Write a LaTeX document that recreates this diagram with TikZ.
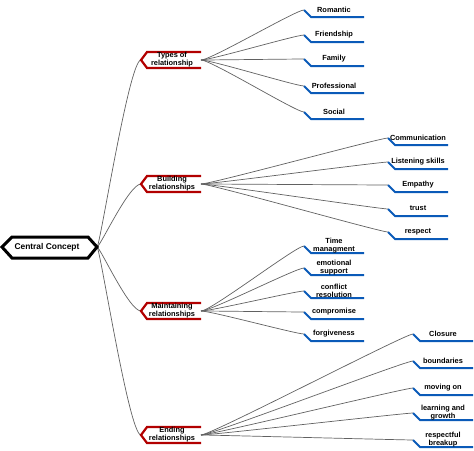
\documentclass[tikz,border=0pt]{standalone}
\usepackage{fontspec}
\setmainfont{Liberation Sans}
\definecolor{leafblue}{HTML}{0A5AB8}
\definecolor{branchred}{HTML}{B20000}
\tikzset{
  conn/.style={draw=black!62, line width=0.7pt},
  leafline/.style={draw=leafblue, line width=2pt},
  branchline/.style={draw=branchred, line width=2.2pt},
  centralline/.style={draw=black, line width=3pt, fill=white, line join=miter},
  txt/.style={font=\fontsize{7.4}{8}\selectfont\bfseries, align=center, inner sep=0pt},
  ctxt/.style={font=\fontsize{8.4}{10}\selectfont\bfseries, inner sep=0pt},
}
\newcommand\mmleaf[5]{%
  \coordinate (#1) at (#3,{#4-7});
  \draw[conn] (#2-r) .. controls +(10,0) and +(-8,0) .. (#1);
  \draw[leafline] (#1) -- ++(7,7) -- ++(53,0);
  \node[txt] (#1-t) at ({#3+30},{#4-7.5}) {#5};
}
\newcommand\mmbranch[3]{%
  \coordinate (#1-l) at (141,#2);
  \coordinate (#1-r) at (201,#2);
  \draw[conn] (c-r) .. controls +(3,0) and +(-12,0) .. (#1-l);
  \draw[branchline] (201,{#2-8}) -- (147,{#2-8}) -- (#1-l) -- (147,{#2+8}) -- (201,{#2+8});
  \node[txt] (#1) at (172,#2) {#3};
}
\begin{document}
\begin{tikzpicture}[x=1pt,y=-1pt]
\useasboundingbox (0,0) rectangle (474,450);
\coordinate (c-r) at (97,247);
\mmbranch{b1}{60}{Types of\\relationship}
\mmbranch{b2}{184}{Building\\relationships}
\mmbranch{b3}{311}{Maintaining\\relationships}
\mmbranch{b4}{435}{Ending\\relationships}
\draw[centralline] (2,247) -- (12,237) -- (88,237) -- (c-r) -- (88,258) -- (12,258) -- cycle;
\node[ctxt] (c) at (47,247) {Central Concept};
% group 1
\mmleaf{l11}{b1}{304}{17}{Romantic}
\mmleaf{l12}{b1}{304}{42}{Friendship}
\mmleaf{l13}{b1}{304}{66}{Family}
\mmleaf{l14}{b1}{304}{93}{Professional}
\mmleaf{l15}{b1}{304}{119}{Social}
% group 2
\mmleaf{l21}{b2}{388}{145}{Communication}
\mmleaf{l22}{b2}{388}{169}{Listening skills}
\mmleaf{l23}{b2}{388}{192}{Empathy}
\mmleaf{l24}{b2}{388}{216}{trust}
\mmleaf{l25}{b2}{388}{239}{respect}
% group 3
\mmleaf{l31}{b3}{304}{253}{Time\\managment}
\mmleaf{l32}{b3}{304}{275}{emotional\\support}
\mmleaf{l33}{b3}{304}{298}{conflict\\resolution}
\mmleaf{l34}{b3}{304}{319}{compromise}
\mmleaf{l35}{b3}{304}{341}{forgiveness}
% group 4
\mmleaf{l41}{b4}{413}{341}{Closure}
\mmleaf{l42}{b4}{413}{368}{boundaries}
\mmleaf{l43}{b4}{413}{395}{moving on}
\mmleaf{l44}{b4}{413}{420}{learning and\\growth}
\mmleaf{l45}{b4}{413}{447}{respectful\\breakup}
\end{tikzpicture}
\end{document}
